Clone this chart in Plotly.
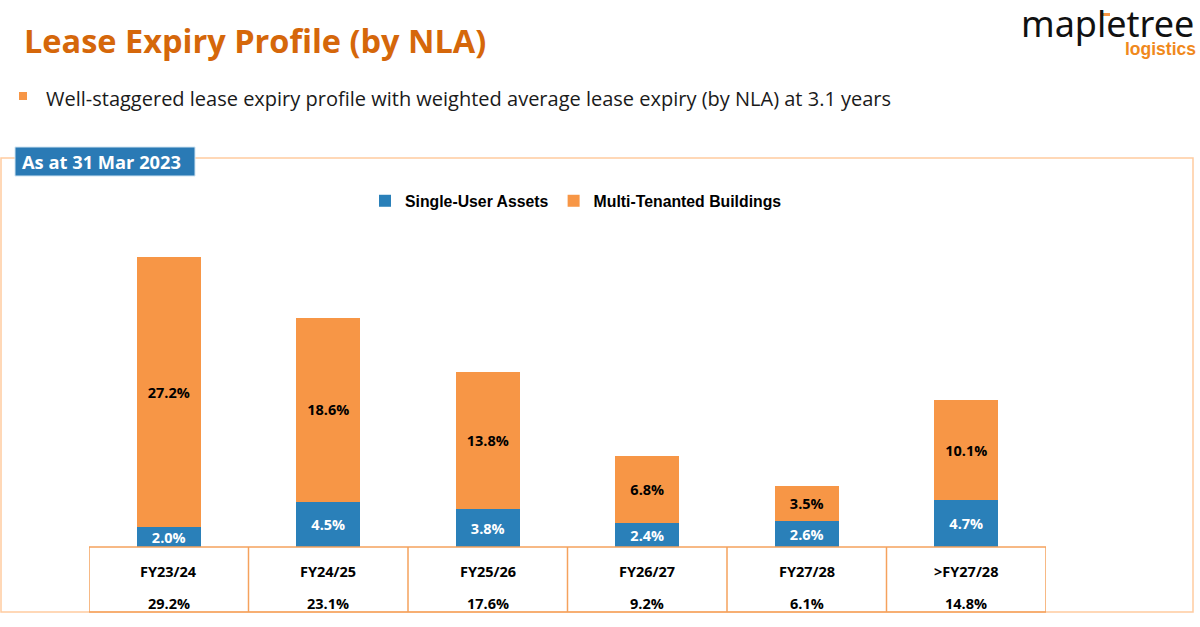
import plotly.graph_objects as go

categories = ["FY23/24", "FY24/25", "FY25/26", "FY26/27", "FY27/28", ">FY27/28"]
single_user = [2.0, 4.5, 3.8, 2.4, 2.6, 4.7]
multi_tenanted = [27.2, 18.6, 13.8, 6.8, 3.5, 10.1]
totals = ["29.2%", "23.1%", "17.6%", "9.2%", "6.1%", "14.8%"]

BLUE = "#2A80B9"
ORANGE = "#F79646"
TITLE_OR = "#D5670A"

W, H = 1200, 627
L, R, T, B = 89, 154, 217, 80
PW, PH = W - L - R, H - T - B


def px(x):
    return (x - L) / PW


def py(y):
    return (H - B - y) / PH


fig = go.Figure()
fig.add_trace(go.Bar(
    x=categories, y=single_user, name="Single-User Assets",
    marker=dict(color=BLUE, line=dict(width=0)),
    texttemplate="%{y:.1f}%", textposition="inside", insidetextanchor="middle",
    constraintext="none",
    textfont=dict(family="Open Sans", size=14.5, color="white", weight="bold"),
))
fig.add_trace(go.Bar(
    x=categories, y=multi_tenanted, name="Multi-Tenanted Buildings",
    marker=dict(color=ORANGE, line=dict(width=0)),
    texttemplate="%{y:.1f}%", textposition="inside", insidetextanchor="middle",
    constraintext="none",
    textfont=dict(family="Open Sans", size=14.5, color="black", weight="bold"),
))

shapes = []
# outer light orange frame
shapes.append(dict(type="rect", xref="paper", yref="paper",
                   x0=px(1), x1=px(1193), y0=py(612), y1=py(158),
                   line=dict(color="#FFCBA0", width=1.5), layer="below"))
# table grid
n = len(categories)
for i in range(n + 1):
    shapes.append(dict(type="line", xref="x", yref="paper",
                       x0=i - 0.5, x1=i - 0.5, y0=py(547), y1=py(612),
                       line=dict(color="#F5A25D", width=1.5)))
shapes.append(dict(type="line", xref="x", yref="paper", x0=-0.5, x1=n - 0.5,
                   y0=py(547), y1=py(547), line=dict(color="#F5A25D", width=1.5)))
shapes.append(dict(type="line", xref="x", yref="paper", x0=-0.5, x1=n - 0.5,
                   y0=py(612), y1=py(612), line=dict(color="#F5A25D", width=1.5)))
# blue date box
shapes.append(dict(type="rect", xref="paper", yref="paper",
                   x0=px(15), x1=px(195), y0=py(176), y1=py(147),
                   fillcolor="#2A7AB5", line=dict(color="#D0E4F2", width=1)))
# bullet square
shapes.append(dict(type="rect", xref="paper", yref="paper",
                   x0=px(19), x1=px(27), y0=py(100), y1=py(92),
                   fillcolor=ORANGE, line=dict(width=0)))
# logo orange bar on 't'
shapes.append(dict(type="rect", xref="paper", yref="paper",
                   x0=px(1100), x1=px(1110), y0=py(16), y1=py(13),
                   fillcolor=ORANGE, line=dict(width=0)))

annotations = []
for i, (c, t) in enumerate(zip(categories, totals)):
    annotations.append(dict(x=c, y=py(571), xref="x", yref="paper", text=c,
                            showarrow=False, xanchor="center", yanchor="middle",
                            font=dict(family="Open Sans", size=14.5, color="black", weight="bold")))
    annotations.append(dict(x=c, y=py(603), xref="x", yref="paper", text=t,
                            showarrow=False, xanchor="center", yanchor="middle",
                            font=dict(family="Open Sans", size=14.5, color="black", weight="bold")))

annotations.append(dict(x=px(22), y=py(40), xref="paper", yref="paper",
                        text="Lease Expiry Profile (by NLA)", showarrow=False,
                        xanchor="left", yanchor="middle",
                        font=dict(family="Open Sans", size=32.5, color=TITLE_OR, weight="bold")))
annotations.append(dict(x=px(44), y=py(99), xref="paper", yref="paper",
                        text="Well-staggered lease expiry profile with weighted average lease expiry (by NLA) at 3.1 years",
                        showarrow=False, xanchor="left", yanchor="middle",
                        font=dict(family="Open Sans", size=20, color="#1a1a1a")))
annotations.append(dict(x=px(20), y=py(161), xref="paper", yref="paper",
                        text="As at 31 Mar 2023", showarrow=False,
                        xanchor="left", yanchor="middle",
                        font=dict(family="Open Sans", size=18.3, color="white", weight="bold")))
annotations.append(dict(x=px(1196), y=py(24), xref="paper", yref="paper",
                        text="mapletree", showarrow=False,
                        xanchor="right", yanchor="middle",
                        font=dict(family="Noto Sans", size=36, color="#111111")))
annotations.append(dict(x=px(1198), y=py(49), xref="paper", yref="paper",
                        text="logistics", showarrow=False,
                        xanchor="right", yanchor="middle",
                        font=dict(family="Liberation Sans", size=17.5, color="#F0891C", weight="bold")))

fig.update_layout(
    width=W, height=H,
    margin=dict(l=L, r=R, t=T, b=B),
    barmode="stack", bargap=0.6,
    plot_bgcolor="white", paper_bgcolor="white",
    showlegend=True,
    legend=dict(orientation="h", x=px(365), y=py(201), xanchor="left", yanchor="middle",
                font=dict(family="Liberation Sans", size=15.8, color="black", weight="bold"),
                itemwidth=30, traceorder="normal", bgcolor="rgba(0,0,0,0)"),
    xaxis=dict(range=[-0.5, n - 0.5], showticklabels=False, showgrid=False,
               zeroline=False, showline=False, ticks=""),
    yaxis=dict(range=[0, PH / 9.93], visible=False, showgrid=False),
    shapes=shapes, annotations=annotations,
)

fig.write_html("out.html")
